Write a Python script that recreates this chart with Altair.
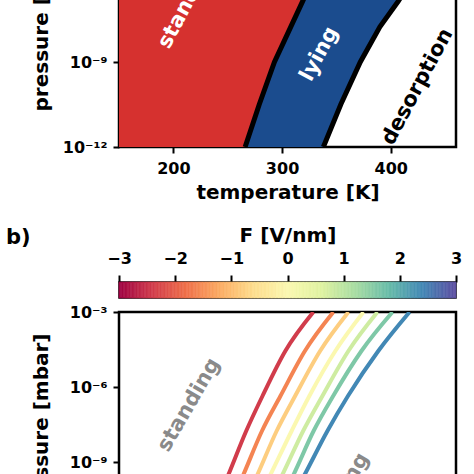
import altair as alt
import numpy as np
import pandas as pd

# ---------------- data ----------------
# panel a) phase boundaries (log10 pressure [mbar], temperature [K])
a_logp = [-12, -10.5, -9, -7.76, -6.85, -6.36, -4.56, -3]
a_b1_T = [266, 279, 293, 308, 319, 325, 352, 375]      # standing / lying
a_b2_T = [338, 354, 372, 390, 407, 415, 445, 475]      # lying / desorption

# panel b) standing/lying boundary for several fields F [V/nm]
F_values = [-2.4, -1.6, -0.8, 0.0, 0.8, 1.6, 2.4]
b_logp = [-3, -4.56, -6.36, -7.76, -9.52, -12]
b_T = {
    -2.4: [328.8, 303.0, 282.0, 267.0, 250.5, 226],
    -1.6: [347.2, 321.0, 298.5, 281.5, 264.3, 239],
    -0.8: [361.1, 335.0, 312.0, 295.0, 277.2, 250],
    0.0:  [374.9, 349.0, 325.1, 308.8, 289.2, 261],
    0.8:  [387.8, 361.0, 337.1, 319.4, 300.2, 271],
    1.6:  [401.6, 373.0, 347.0, 329.0, 310.4, 280],
    2.4:  [417.3, 388.5, 360.6, 341.7, 320.6, 289],
}

# region labels
a_labels = ["standing", "lying", "desorption"]
a_label_T = [213.6, 334.3, 424.6]
a_label_logp = [-6.85, -8.72, -9.88]
b_labels = ["standing", "lying"]
b_label_T = [214.5, 362.0]
b_label_logp = [-6.72, -9.72]

T_ticks = [200, 300, 400]
p_exps = [-12, -9, -6, -3]
F_ticks = [-3, -2, -1, 0, 1, 2, 3]

# ---------------- styling helpers ----------------
T_DOMAIN = [150, 460]
P_DOMAIN = [1e-12, 1e-3]
FONT = "DejaVu Sans"
RED = "#d6312f"
BLUE = "#1b4c8e"
GRAY = "#8a8a8a"

SUP = str.maketrans("-0123456789", "⁻⁰¹²³⁴⁵⁶⁷⁸⁹")
label_expr = "''"
for e in reversed(p_exps):
    label_expr = f"round(log(datum.value)/LN10) == {e} ? '10{str(e).translate(SUP)}' : ({label_expr})"

xscale = alt.Scale(domain=T_DOMAIN, nice=False, zero=False)
yscale = alt.Scale(type="log", domain=P_DOMAIN, nice=False)


def x_axis():
    return alt.Axis(values=T_ticks, title="temperature [K]", labelFlush=False,
                    labelPadding=7, titlePadding=6)


def y_axis():
    return alt.Axis(values=[10.0 ** e for e in p_exps], labelExpr=label_expr,
                    title="pressure [mbar]", labelOverlap=False, labelPadding=6,
                    titlePadding=11)


# ---------------- panel a) ----------------
dfa = pd.DataFrame({
    "p": [10.0 ** v for v in a_logp],
    "b1": a_b1_T,
    "b2": a_b2_T,
    "left": [T_DOMAIN[0]] * len(a_logp),
})

red = alt.Chart(dfa).mark_area(orient="horizontal", color=RED, clip=True).encode(
    y=alt.Y("p:Q", scale=yscale, axis=y_axis()),
    x=alt.X("left:Q", scale=xscale, axis=x_axis()),
    x2="b1:Q",
)
blue = alt.Chart(dfa).mark_area(orient="horizontal", color=BLUE, clip=True).encode(
    y=alt.Y("p:Q", scale=yscale),
    x=alt.X("b1:Q", scale=xscale),
    x2="b2:Q",
)
line1 = alt.Chart(dfa).mark_line(color="black", strokeWidth=5, clip=True).encode(
    y=alt.Y("p:Q", scale=yscale), x=alt.X("b1:Q", scale=xscale), order="p:Q")
line2 = alt.Chart(dfa).mark_line(color="black", strokeWidth=5, clip=True).encode(
    y=alt.Y("p:Q", scale=yscale), x=alt.X("b2:Q", scale=xscale), order="p:Q")

dfa_lab = pd.DataFrame({"label": a_labels, "T": a_label_T,
                        "p": [10.0 ** v for v in a_label_logp],
                        "col": ["white", "white", "black"]})
a_text = alt.Chart(dfa_lab).mark_text(angle=298, font=FONT, fontWeight="bold",
                                      fontSize=21, align="center", baseline="middle").encode(
    x=alt.X("T:Q", scale=xscale), y=alt.Y("p:Q", scale=yscale),
    text="label:N", color=alt.Color("col:N", scale=None),
)

panel_a = alt.layer(red, blue, line1, line2, a_text).properties(width=337, height=255)

# ---------------- colorbar ----------------
cb_edges = np.linspace(-3, 3, 241)
dfc = pd.DataFrame({"F0": cb_edges[:-1], "F1": cb_edges[1:]})
dfc["F"] = (dfc["F0"] + dfc["F1"]) / 2
fscale = alt.Scale(scheme="spectral", domain=[-3, 3])
cbar = alt.Chart(dfc).mark_rect(strokeWidth=0.6).encode(
    x=alt.X("F0:Q", scale=alt.Scale(domain=[-3, 3], nice=False),
            axis=alt.Axis(orient="top", values=F_ticks, title="F [V/nm]", labelFlush=False,
                          labelPadding=9, titlePadding=5, tickSize=7)),
    x2="F1:Q",
    color=alt.Color("F:Q", scale=fscale, legend=None),
    stroke=alt.Stroke("F:Q", scale=fscale, legend=None),
)
b_lab = alt.Chart(pd.DataFrame({"t": ["b)"]})).mark_text(
    font=FONT, fontWeight="bold", fontSize=21, align="left", baseline="middle", color="black"
).encode(text="t:N", x=alt.value(-113), y=alt.value(-44))
colorbar = alt.layer(cbar, b_lab).properties(
    width=337, height=16, view=alt.ViewBackground(stroke="black", strokeWidth=1.5))

# ---------------- panel b) ----------------
rows = []
for F in F_values:
    for lp, T in zip(b_logp, b_T[F]):
        rows.append({"F": F, "p": 10.0 ** lp, "T": T})
dfb = pd.DataFrame(rows)

blines = alt.Chart(dfb).mark_line(strokeWidth=4, clip=True, interpolate="monotone").encode(
    x=alt.X("T:Q", scale=xscale, axis=x_axis()),
    y=alt.Y("p:Q", scale=yscale, axis=y_axis()),
    color=alt.Color("F:Q", scale=fscale, legend=None),
    detail="F:N",
    order="p:Q",
)
dfb_lab = pd.DataFrame({"label": b_labels, "T": b_label_T,
                        "p": [10.0 ** v for v in b_label_logp]})
b_text = alt.Chart(dfb_lab).mark_text(angle=300, font=FONT, fontWeight="bold", fontSize=21,
                                      color=GRAY, align="center", baseline="middle").encode(
    x=alt.X("T:Q", scale=xscale), y=alt.Y("p:Q", scale=yscale), text="label:N")

panel_b = alt.layer(blines, b_text).properties(width=337, height=225)

inner = alt.vconcat(colorbar, panel_b, spacing=14, bounds="flush")
chart = alt.vconcat(panel_a, inner, spacing=135, bounds="flush").properties(
    padding={"left": 5, "top": -118, "right": 0, "bottom": -119},
    background="white",
).configure_view(stroke="black", strokeWidth=2.5).configure_axis(
    labelFont=FONT, labelFontWeight="bold", labelFontSize=16, labelColor="black",
    titleFont=FONT, titleFontWeight="bold", titleFontSize=20, titleColor="black",
    tickColor="black", tickWidth=2, tickSize=6, domain=False, grid=False,
).configure_scale(continuousPadding=0)

chart.save("out.html", embed_options={"renderer": "svg", "actions": False})
